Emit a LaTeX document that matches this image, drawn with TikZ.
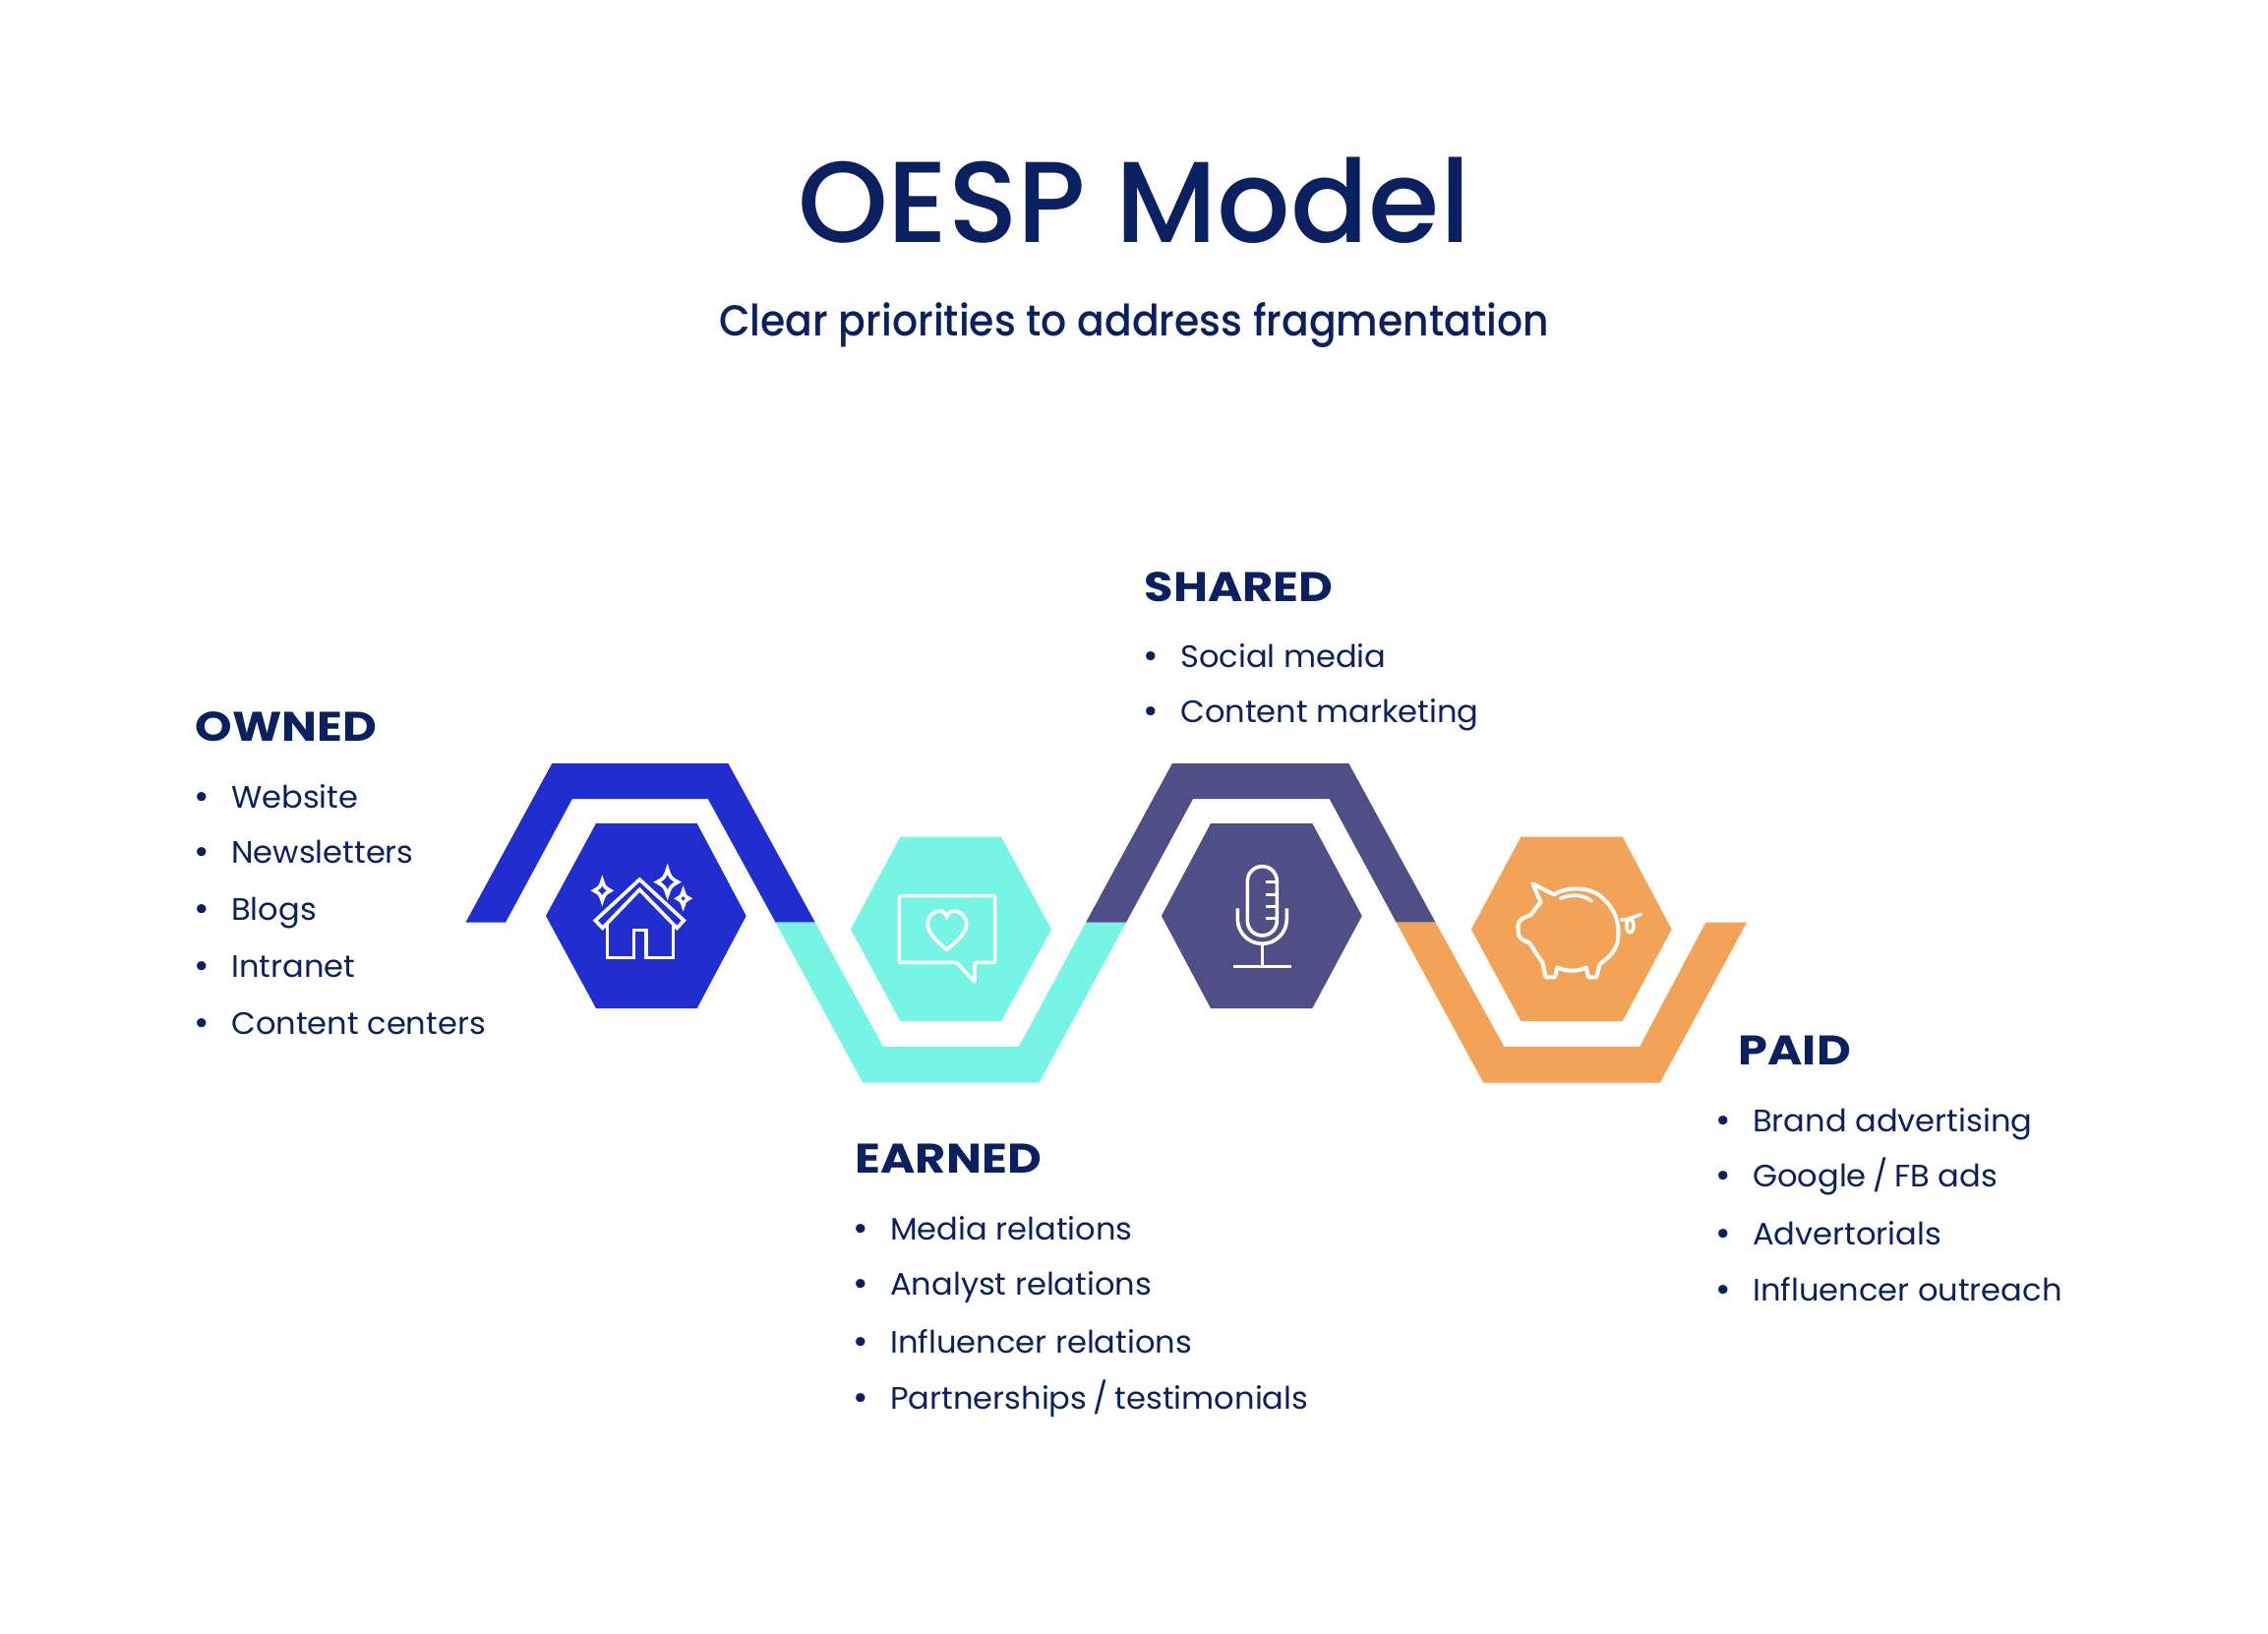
\documentclass[tikz,border=0pt]{standalone}
\usepackage{fontspec}
\setmainfont{Poppins}[FakeStretch=1.02]
\newfontfamily\titlefont{Poppins}[UprightFont=* Medium]
\newfontfamily\subfont{Poppins}[FakeStretch=.93,UprightFont=* Medium]
\newfontfamily\headfont{Poppins}[FakeStretch=1.14,UprightFont=* Bold]
\usepackage{tikz}

\definecolor{ink}{HTML}{0A2060}
\definecolor{ownedc}{HTML}{202ECF}
\definecolor{earnedc}{HTML}{76F5E4}
\definecolor{sharedc}{HTML}{4F4F87}
\definecolor{paidc}{HTML}{F3A357}

\newcommand{\blt}{\makebox[38pt][l]{\raisebox{-.8pt}{\fontsize{37}{37}\selectfont\textbullet}}}
\newcommand{\sparkle}[4]{%
  \draw[iconline] ({#1},{#2-#4}) .. controls ({#1+.28*#3},{#2-.32*#4}) .. ({#1+#3},{#2})
    .. controls ({#1+.28*#3},{#2+.32*#4}) .. ({#1},{#2+#4})
    .. controls ({#1-.28*#3},{#2+.32*#4}) .. ({#1-#3},{#2})
    .. controls ({#1-.28*#3},{#2-.32*#4}) .. cycle;}

\tikzset{
  heading/.style={anchor=base west,inner sep=0pt,text=ink,yshift=-1.2pt,font=\fontsize{42}{42}\headfont},
  listitem/.style={anchor=base west,inner sep=0pt,text=ink,yshift=-1.2pt,font=\fontsize{31.5}{32}\selectfont},
  iconline/.style={draw=white,line width=3.6pt,line join=miter}
}

\begin{document}
\begin{tikzpicture}[x=1pt,y=-1pt]
  \useasboundingbox (0,0) rectangle (2306,1660);
  \node[inner sep=0pt,text=ink,anchor=base,font=\fontsize{117}{117}\titlefont] (title) at (1153,246) {OESP Model};
  \node[inner sep=0pt,text=ink,anchor=base,yshift=-1.2pt,font=\fontsize{44}{44}\subfont] (subtitle) at (1153,340) {Clear priorities to address fragmentation};

  % bands
  \fill[ownedc] (473.4,937.7) -- (561.3,776) -- (740.4,776) -- (828.8,937.7) -- (788.6,937.7) -- (719.8,812) -- (581.9,812) -- (514,937.7) -- cycle;
  \fill[earnedc] (788.6,937.7) -- (828.8,937.7) -- (898,1064) -- (1035.9,1064) -- (1104,937.7) -- (1145,937.7) -- (1056.4,1100.7) -- (877.4,1100.7) -- cycle;
  \fill[sharedc] (1104,937.7) -- (1191.9,776) -- (1371.4,776) -- (1459.6,937.7) -- (1419.7,937.7) -- (1351.7,812) -- (1213,812) -- (1145,937.7) -- cycle;
  \fill[paidc] (1419.7,937.7) -- (1459.6,937.7) -- (1529.4,1064) -- (1667.1,1064) -- (1734.2,937.7) -- (1776,937.7) -- (1687.8,1100.7) -- (1508.3,1100.7) -- cycle;

  % hexagons
  \fill[ownedc] (555,931) -- (606,837) -- (708.7,837) -- (758.7,931) -- (708.7,1025) -- (606,1025) -- cycle;
  \fill[earnedc] (865,944.7) -- (915.4,850.7) -- (1018,850.7) -- (1069,944.7) -- (1018,1038) -- (915.4,1038) -- cycle;
  \fill[sharedc] (1180.9,931) -- (1231,837) -- (1334.3,837) -- (1384.8,931) -- (1334.3,1025) -- (1231,1025) -- cycle;
  \fill[paidc] (1495.9,944.7) -- (1546.4,850.7) -- (1649.7,850.7) -- (1699.7,944.7) -- (1649.7,1038) -- (1546.4,1038) -- cycle;

  % house
  \begin{scope}[shift={(590,870)},x=.3333pt,y=-.3333pt]
    \draw[iconline] (181,72) -- (46,197) -- (68,220) -- (181,103) -- (295,220) -- (316,197) -- cycle;
    \draw[iconline] (82,205) -- (82,311) -- (163,311) -- (163,226) -- (201,226) -- (201,311) -- (283,311) -- (283,205);
    \sparkle{67}{106}{25}{31}
    \sparkle{266}{80}{32}{40}
    \sparkle{314}{130}{18}{23}
  \end{scope}

  % speech bubble
  \begin{scope}[shift={(900,890)},x=.3333pt,y=-.3333pt]
    \draw[iconline,rounded corners=2pt] (43,62) -- (335,62) -- (335,265) -- (273,265) -- (273,325) -- (218,265) -- (43,265) -- cycle;
    \draw[iconline] (188,226) .. controls (150,195) and (130,172) .. (130,147) .. controls (130,122) and (150,108) .. (165,108) .. controls (175,108) and (185,115) .. (188,125) .. controls (191,115) and (201,108) .. (211,108) .. controls (226,108) and (248,122) .. (248,147) .. controls (248,172) and (226,195) .. cycle;
  \end{scope}

  % microphone
  \begin{scope}[shift={(1220,870)},x=.3333pt,y=-.3333pt]
    \draw[iconline] (145,77) arc[start angle=180,end angle=360,radius=45] -- (235,198) arc[start angle=0,end angle=180,radius=45] -- cycle;
    \draw[iconline] (200,80) -- (235,80) (200,118) -- (235,118) (200,155) -- (235,155) (200,190) -- (235,190);
    \draw[iconline] (115,160) -- (115,193) arc[start angle=180,end angle=0,radius=75] -- (265,160);
    \draw[iconline] (190,268) -- (190,337) (102,337) -- (279,337);
  \end{scope}

  % piggy bank
  \begin{scope}[shift={(1520,880)},x=.3333pt,y=-.3333pt]
    \draw[iconline,line width=4pt,line join=round] (180,88) .. controls (215,65) and (290,60) .. (330,100) .. controls (370,135) and (385,190) .. (372,240) .. controls (360,270) and (340,285) .. (320,300) -- (310,340) -- (285,340) -- (278,310) .. controls (250,325) and (215,322) .. (190,310) -- (183,340) -- (155,340) -- (145,295) .. controls (130,275) and (115,250) .. (105,235) .. controls (90,230) and (78,225) .. (72,210) -- (70,185) .. controls (70,165) and (85,160) .. (110,150) .. controls (120,135) and (130,120) .. (140,112) -- (115,55) -- cycle;
    \draw[iconline,line cap=round] (200,100) .. controls (230,85) and (270,88) .. (295,108);
    \draw[iconline,line cap=round] (385,165) .. controls (410,165) and (425,155) .. (445,148);
    \draw[iconline] (412,183) ellipse [x radius=11,y radius=20];
  \end{scope}

  % owned
  \node[heading] (owned) at (198.5,752.7) {OWNED};
  \node[listitem] (owned1) at (197,820.7) {\blt Website};
  \node[listitem] (owned2) at (197,876.7) {\blt Newsletters};
  \node[listitem] (owned3) at (197,934.3) {\blt Blogs};
  \node[listitem] (owned4) at (197,992.7) {\blt Intranet};
  \node[listitem] (owned5) at (197,1050) {\blt Content centers};

  % earned
  \node[heading] (earned) at (869.5,1191.7) {EARNED};
  \node[listitem] (earned1) at (867,1259.3) {\blt Media relations};
  \node[listitem] (earned2) at (867,1315.7) {\blt Analyst relations};
  \node[listitem] (earned3) at (867,1374) {\blt Influencer relations};
  \node[listitem] (earned4) at (867,1431.7) {\blt Partnerships\kern-2pt{} /\kern-2pt{} testimonials};

  % shared
  \node[heading] (shared) at (1163.5,610) {SHARED};
  \node[listitem] (shared1) at (1162,677.3) {\blt Social media};
  \node[listitem] (shared2) at (1162,733.3) {\blt Content marketing};

  % paid
  \node[heading] (paid) at (1767.5,1081.7) {PAID};
  \node[listitem] (paid1) at (1744,1149.3) {\blt Brand advertising};
  \node[listitem] (paid2) at (1744,1205.7) {\blt Google\kern-2pt{} /\kern-2pt{} FB ads};
  \node[listitem] (paid3) at (1744,1264) {\blt Advertorials};
  \node[listitem] (paid4) at (1744,1321.7) {\blt Influencer outreach};
\end{tikzpicture}
\end{document}
